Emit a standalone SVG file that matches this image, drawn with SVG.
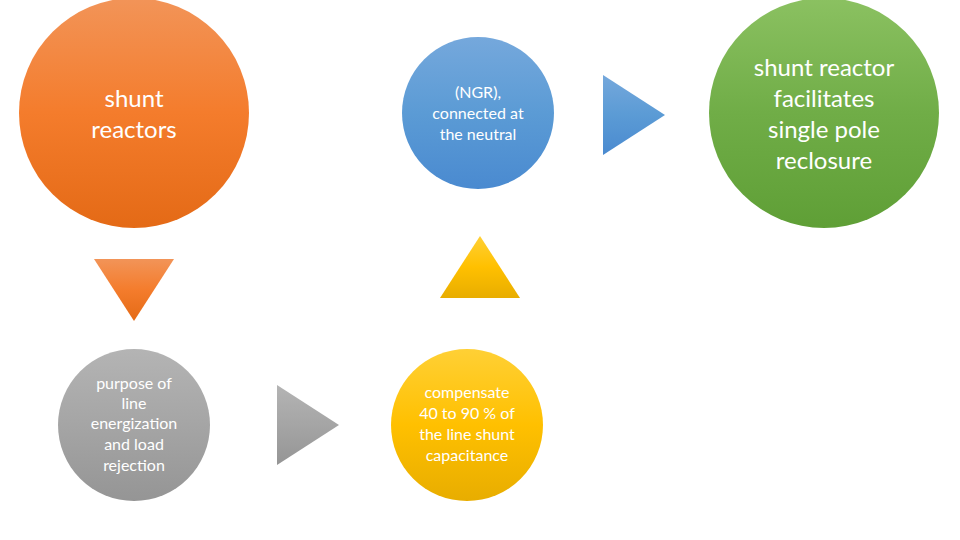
<svg xmlns="http://www.w3.org/2000/svg" width="960" height="540" viewBox="0 0 960 540">
<defs>
<linearGradient id="gO" x1="0" y1="0" x2="0" y2="1"><stop offset="0" stop-color="#f29458"/><stop offset="0.5" stop-color="#f47c2c"/><stop offset="1" stop-color="#e46a16"/></linearGradient>
<linearGradient id="gB" x1="0" y1="0" x2="0" y2="1"><stop offset="0" stop-color="#75a8dc"/><stop offset="0.5" stop-color="#5b9bd5"/><stop offset="1" stop-color="#4a8ad0"/></linearGradient>
<linearGradient id="gG" x1="0" y1="0" x2="0" y2="1"><stop offset="0" stop-color="#8bc161"/><stop offset="0.5" stop-color="#70ad47"/><stop offset="1" stop-color="#5f9f36"/></linearGradient>
<linearGradient id="gY" x1="0" y1="0" x2="0" y2="1"><stop offset="0" stop-color="#ffd035"/><stop offset="0.5" stop-color="#ffc000"/><stop offset="1" stop-color="#e8ad00"/></linearGradient>
<linearGradient id="gR" x1="0" y1="0" x2="0" y2="1"><stop offset="0" stop-color="#b4b4b4"/><stop offset="0.5" stop-color="#a5a5a5"/><stop offset="1" stop-color="#959595"/></linearGradient>
<style>
text{font-family:Lato,"Open Sans","Liberation Sans",sans-serif;fill:#fff;text-anchor:middle}
.big{font-size:24px}.sm{font-size:16px}
</style>
</defs>
<rect width="960" height="540" fill="#fff"/>
<g id="connectors">
<polygon points="94,259 174,259 134,321" fill="url(#gO)"/>
<polygon points="277,385 277,465 339,425" fill="url(#gR)"/>
<polygon points="440,298 520,298 480,236" fill="url(#gY)"/>
<polygon points="603,75 603,155 665,115" fill="url(#gB)"/>
</g>
<g id="n1"><circle cx="134" cy="113" r="115" fill="url(#gO)"/>
<text class="big" x="134" y="107">shunt</text><text class="big" x="134" y="138">reactors</text></g>
<g id="n2"><circle cx="478" cy="113" r="76" fill="url(#gB)"/>
<text class="sm" x="478" y="98">(NGR),</text><text class="sm" x="478" y="119">connected at</text><text class="sm" x="478" y="140">the neutral</text></g>
<g id="n3"><circle cx="824" cy="113" r="115" fill="url(#gG)"/>
<text class="big" x="824" y="76">shunt reactor</text><text class="big" x="824" y="107">facilitates</text><text class="big" x="824" y="138">single pole</text><text class="big" x="824" y="169">reclosure</text></g>
<g id="n4"><circle cx="134" cy="425" r="76" fill="url(#gR)"/>
<text class="sm" x="134" y="389">purpose of</text><text class="sm" x="134" y="409">line</text><text class="sm" x="134" y="429">energization</text><text class="sm" x="134" y="450">and load</text><text class="sm" x="134" y="471">rejection</text></g>
<g id="n5"><circle cx="467" cy="425" r="76" fill="url(#gY)"/>
<text class="sm" x="467" y="398">compensate</text><text class="sm" x="467" y="419">40 to 90 % of</text><text class="sm" x="467" y="440">the line shunt</text><text class="sm" x="467" y="461">capacitance</text></g>
</svg>
